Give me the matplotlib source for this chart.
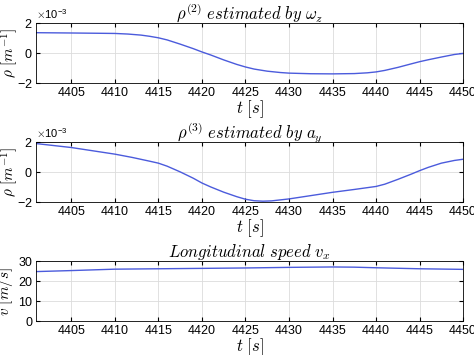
import numpy as np
import matplotlib
matplotlib.use('Agg')
import matplotlib.pyplot as plt
from matplotlib.ticker import ScalarFormatter

plt.rcParams['mathtext.fontset'] = 'cm'
plt.rcParams['font.family'] = 'Liberation Sans'
plt.rcParams['axes.unicode_minus'] = False

t1 = [4401, 4405, 4410, 4411.5, 4413, 4414, 4415, 4416, 4417.5, 4419, 4420, 4421,
      4422.5, 4424, 4425, 4426, 4427.5, 4429, 4430, 4432.5, 4435, 4437.5, 4439,
      4440, 4441, 4442.5, 4444, 4445, 4446, 4447.5, 4449, 4450]
rho2 = [1.36, 1.34, 1.31, 1.27, 1.2, 1.12, 1.02, 0.88, 0.6, 0.3, 0.08, -0.12,
        -0.45, -0.75, -0.92, -1.06, -1.2, -1.29, -1.33, -1.37, -1.38, -1.36, -1.31,
        -1.25, -1.15, -0.95, -0.72, -0.57, -0.44, -0.26, -0.09, -0.02]

t2 = [4401, 4405, 4410, 4412, 4414, 4415, 4416, 4417.5, 4419, 4420, 4421,
      4422.5, 4424, 4425, 4426, 4427, 4428, 4430, 4432.5, 4435, 4437.5, 4440,
      4441, 4442.5, 4444, 4445, 4446, 4447.5, 4449, 4450]
rho3 = [1.9, 1.64, 1.2, 0.98, 0.73, 0.6, 0.4, 0.02, -0.4, -0.72, -0.98,
        -1.33, -1.63, -1.8, -1.9, -1.93, -1.91, -1.78, -1.56, -1.34, -1.15, -0.95,
        -0.8, -0.48, -0.14, 0.1, 0.32, 0.6, 0.78, 0.86]

t3 = [4401, 4405, 4410, 4415, 4420, 4425, 4430, 4435, 4437.5, 4440, 4445, 4450]
vx = [24.8, 25.3, 26.0, 26.2, 26.4, 26.6, 26.9, 27.1, 27.0, 26.7, 26.2, 25.9]

xticks = np.arange(4405, 4451, 5)
col = '#4b5bdc'

fig, axs = plt.subplots(3, 1, figsize=(4.74, 3.55), dpi=100)
fig.subplots_adjust(left=0.077, right=0.977, top=0.935, bottom=0.095, hspace=0.98)

def style(ax, lx):
    ax.set_xlim(4401, 4450)
    ax.set_xticks(xticks)
    ax.grid(True, color='#dcdcdc', linewidth=0.6)
    ax.set_axisbelow(True)
    ax.tick_params(direction='in', length=3, labelsize=9, top=True, right=True, pad=3)
    for s in ax.spines.values():
        s.set_linewidth(0.6)
    ax.set_xlabel(r'$t\ [s]$', fontsize=12, labelpad=-1)
    ax.yaxis.set_label_coords(lx, 0.5)

ax = axs[0]
ax.plot(t1, np.array(rho2) * 1e-3, color=col, linewidth=1.0)
ax.set_ylim(-2e-3, 2e-3)
ax.set_yticks([-2e-3, 0, 2e-3])
ax.set_ylabel(r'$\rho\ [m^{-1}]$', fontsize=11)
ax.set_title(r'$\rho^{(2)}\ estimated\ by\ \omega_z$', fontsize=12, pad=3)

ax = axs[1]
ax.plot(t2, np.array(rho3) * 1e-3, color=col, linewidth=1.0)
ax.set_ylim(-2e-3, 2e-3)
ax.set_yticks([-2e-3, 0, 2e-3])
ax.set_ylabel(r'$\rho\ [m^{-1}]$', fontsize=11)
ax.set_title(r'$\rho^{(3)}\ estimated\ by\ a_y$', fontsize=12, pad=3)

for ax in axs[:2]:
    fmt = ScalarFormatter(useMathText=True)
    fmt.set_powerlimits((0, 0))
    ax.yaxis.set_major_formatter(fmt)
    ax.yaxis.get_offset_text().set_fontsize(8)

ax = axs[2]
ax.plot(t3, vx, color=col, linewidth=1.0)
ax.set_ylim(0, 30)
ax.set_yticks([0, 10, 20, 30])
ax.set_ylabel(r'$v\ [m/s]$', fontsize=11)
ax.set_title(r'$Longitudinal\ speed\ v_x$', fontsize=12, pad=3)

for ax, lx in zip(axs, [-0.038, -0.038, -0.05]):
    style(ax, lx)

fig.savefig('out.png', dpi=100)
